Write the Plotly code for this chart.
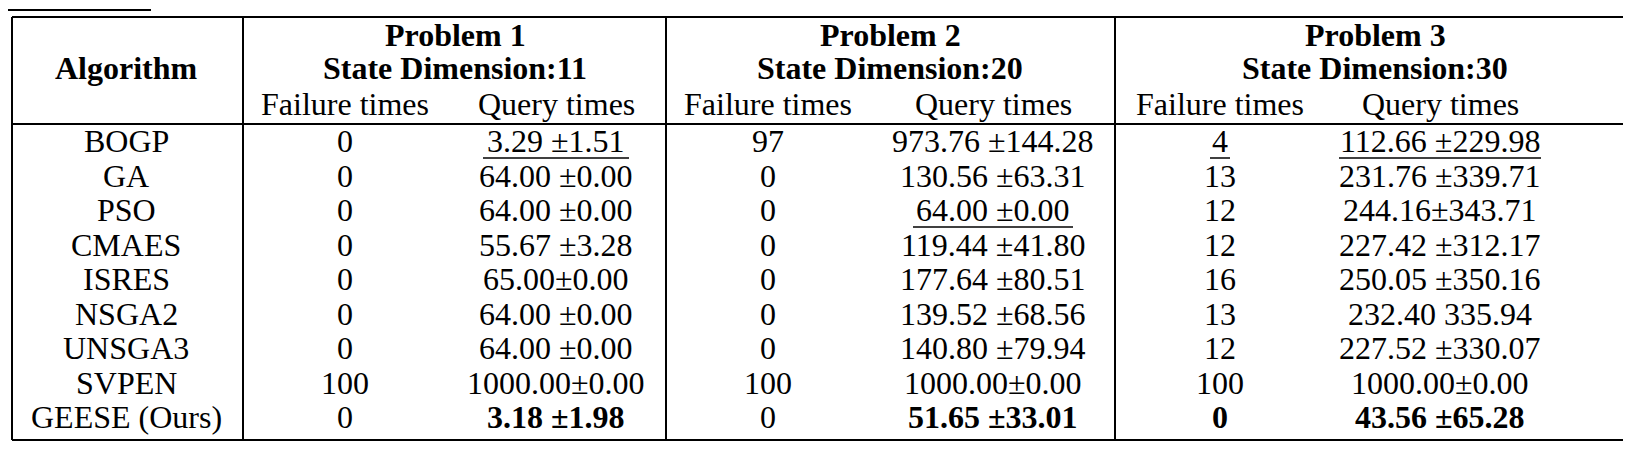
import plotly.graph_objects as go

# table content
algorithms = ["BOGP", "GA", "PSO", "CMAES", "ISRES", "NSGA2", "UNSGA3", "SVPEN", "GEESE (Ours)"]
problems = ["Problem 1", "Problem 2", "Problem 3"]
state_dims = ["State Dimension:11", "State Dimension:20", "State Dimension:30"]
sub_headers = ["Failure times", "Query times"]

p1_fail = ["0", "0", "0", "0", "0", "0", "0", "100", "0"]
p1_query = ["3.29 ±1.51", "64.00 ±0.00", "64.00 ±0.00", "55.67 ±3.28", "65.00±0.00",
            "64.00 ±0.00", "64.00 ±0.00", "1000.00±0.00", "3.18 ±1.98"]
p2_fail = ["97", "0", "0", "0", "0", "0", "0", "100", "0"]
p2_query = ["973.76 ±144.28", "130.56 ±63.31", "64.00 ±0.00", "119.44 ±41.80", "177.64 ±80.51",
            "139.52 ±68.56", "140.80 ±79.94", "1000.00±0.00", "51.65 ±33.01"]
p3_fail = ["4", "13", "12", "12", "16", "13", "12", "100", "0"]
p3_query = ["112.66 ±229.98", "231.76 ±339.71", "244.16±343.71", "227.42 ±312.17", "250.05 ±350.16",
            "232.40 335.94", "227.52 ±330.07", "1000.00±0.00", "43.56 ±65.28"]

# (column index, row index) cells in bold / underlined
bold_cells = [(2, 8), (4, 8), (5, 8), (6, 8)]
under_cells = [(2, 0), (4, 2), (5, 0), (6, 0)]

columns = [algorithms, p1_fail, p1_query, p2_fail, p2_query, p3_fail, p3_query]
col_x = [118, 337, 548, 760, 985, 1212, 1432]
group_x = [447, 882, 1367]
vlines = [4, 235, 658, 1107, 1627]
row_y0, row_h = 133, 34.5
font = "Liberation Serif"
fs = 32

fig = go.Figure()
ann = []
shapes = []

ann.append(dict(x=col_x[0], y=60, text="<b>Algorithm</b>"))
for i in range(3):
    ann.append(dict(x=group_x[i], y=27, text="<b>%s</b>" % problems[i]))
    ann.append(dict(x=group_x[i], y=60, text="<b>%s</b>" % state_dims[i]))
    for j in range(2):
        ann.append(dict(x=col_x[1 + 2 * i + j], y=96, text=sub_headers[j]))

for c, col in enumerate(columns):
    for r, val in enumerate(col):
        y = row_y0 + r * row_h
        txt = "<b>%s</b>" % val if (c, r) in bold_cells else val
        ann.append(dict(x=col_x[c], y=y, text=txt))
        if (c, r) in under_cells:
            w = len(val) * 14 + 6
            shapes.append(dict(type="line", x0=col_x[c] - w / 2, x1=col_x[c] + w / 2,
                               y0=y + 17, y1=y + 17, line=dict(color="black", width=1.5)))

for a in ann:
    a.update(xref="x", yref="y", showarrow=False, xanchor="center", yanchor="middle",
             font=dict(family=font, size=fs, color="black"))

line = dict(color="black", width=2)
shapes.append(dict(type="line", x0=0, x1=143, y0=2, y1=2, line=line))
for y in [9, 116, 432]:
    shapes.append(dict(type="line", x0=4, x1=1627, y0=y, y1=y, line=line))
for x in vlines:
    shapes.append(dict(type="line", x0=x, x1=x, y0=9, y1=432, line=line))

fig.update_layout(
    width=1631, height=451,
    margin=dict(l=0, r=0, t=0, b=0),
    plot_bgcolor="white", paper_bgcolor="white",
    xaxis=dict(range=[0, 1631], visible=False, fixedrange=True),
    yaxis=dict(range=[451, 0], visible=False, fixedrange=True),
    annotations=ann, shapes=shapes,
)

fig.write_html("out.html")
